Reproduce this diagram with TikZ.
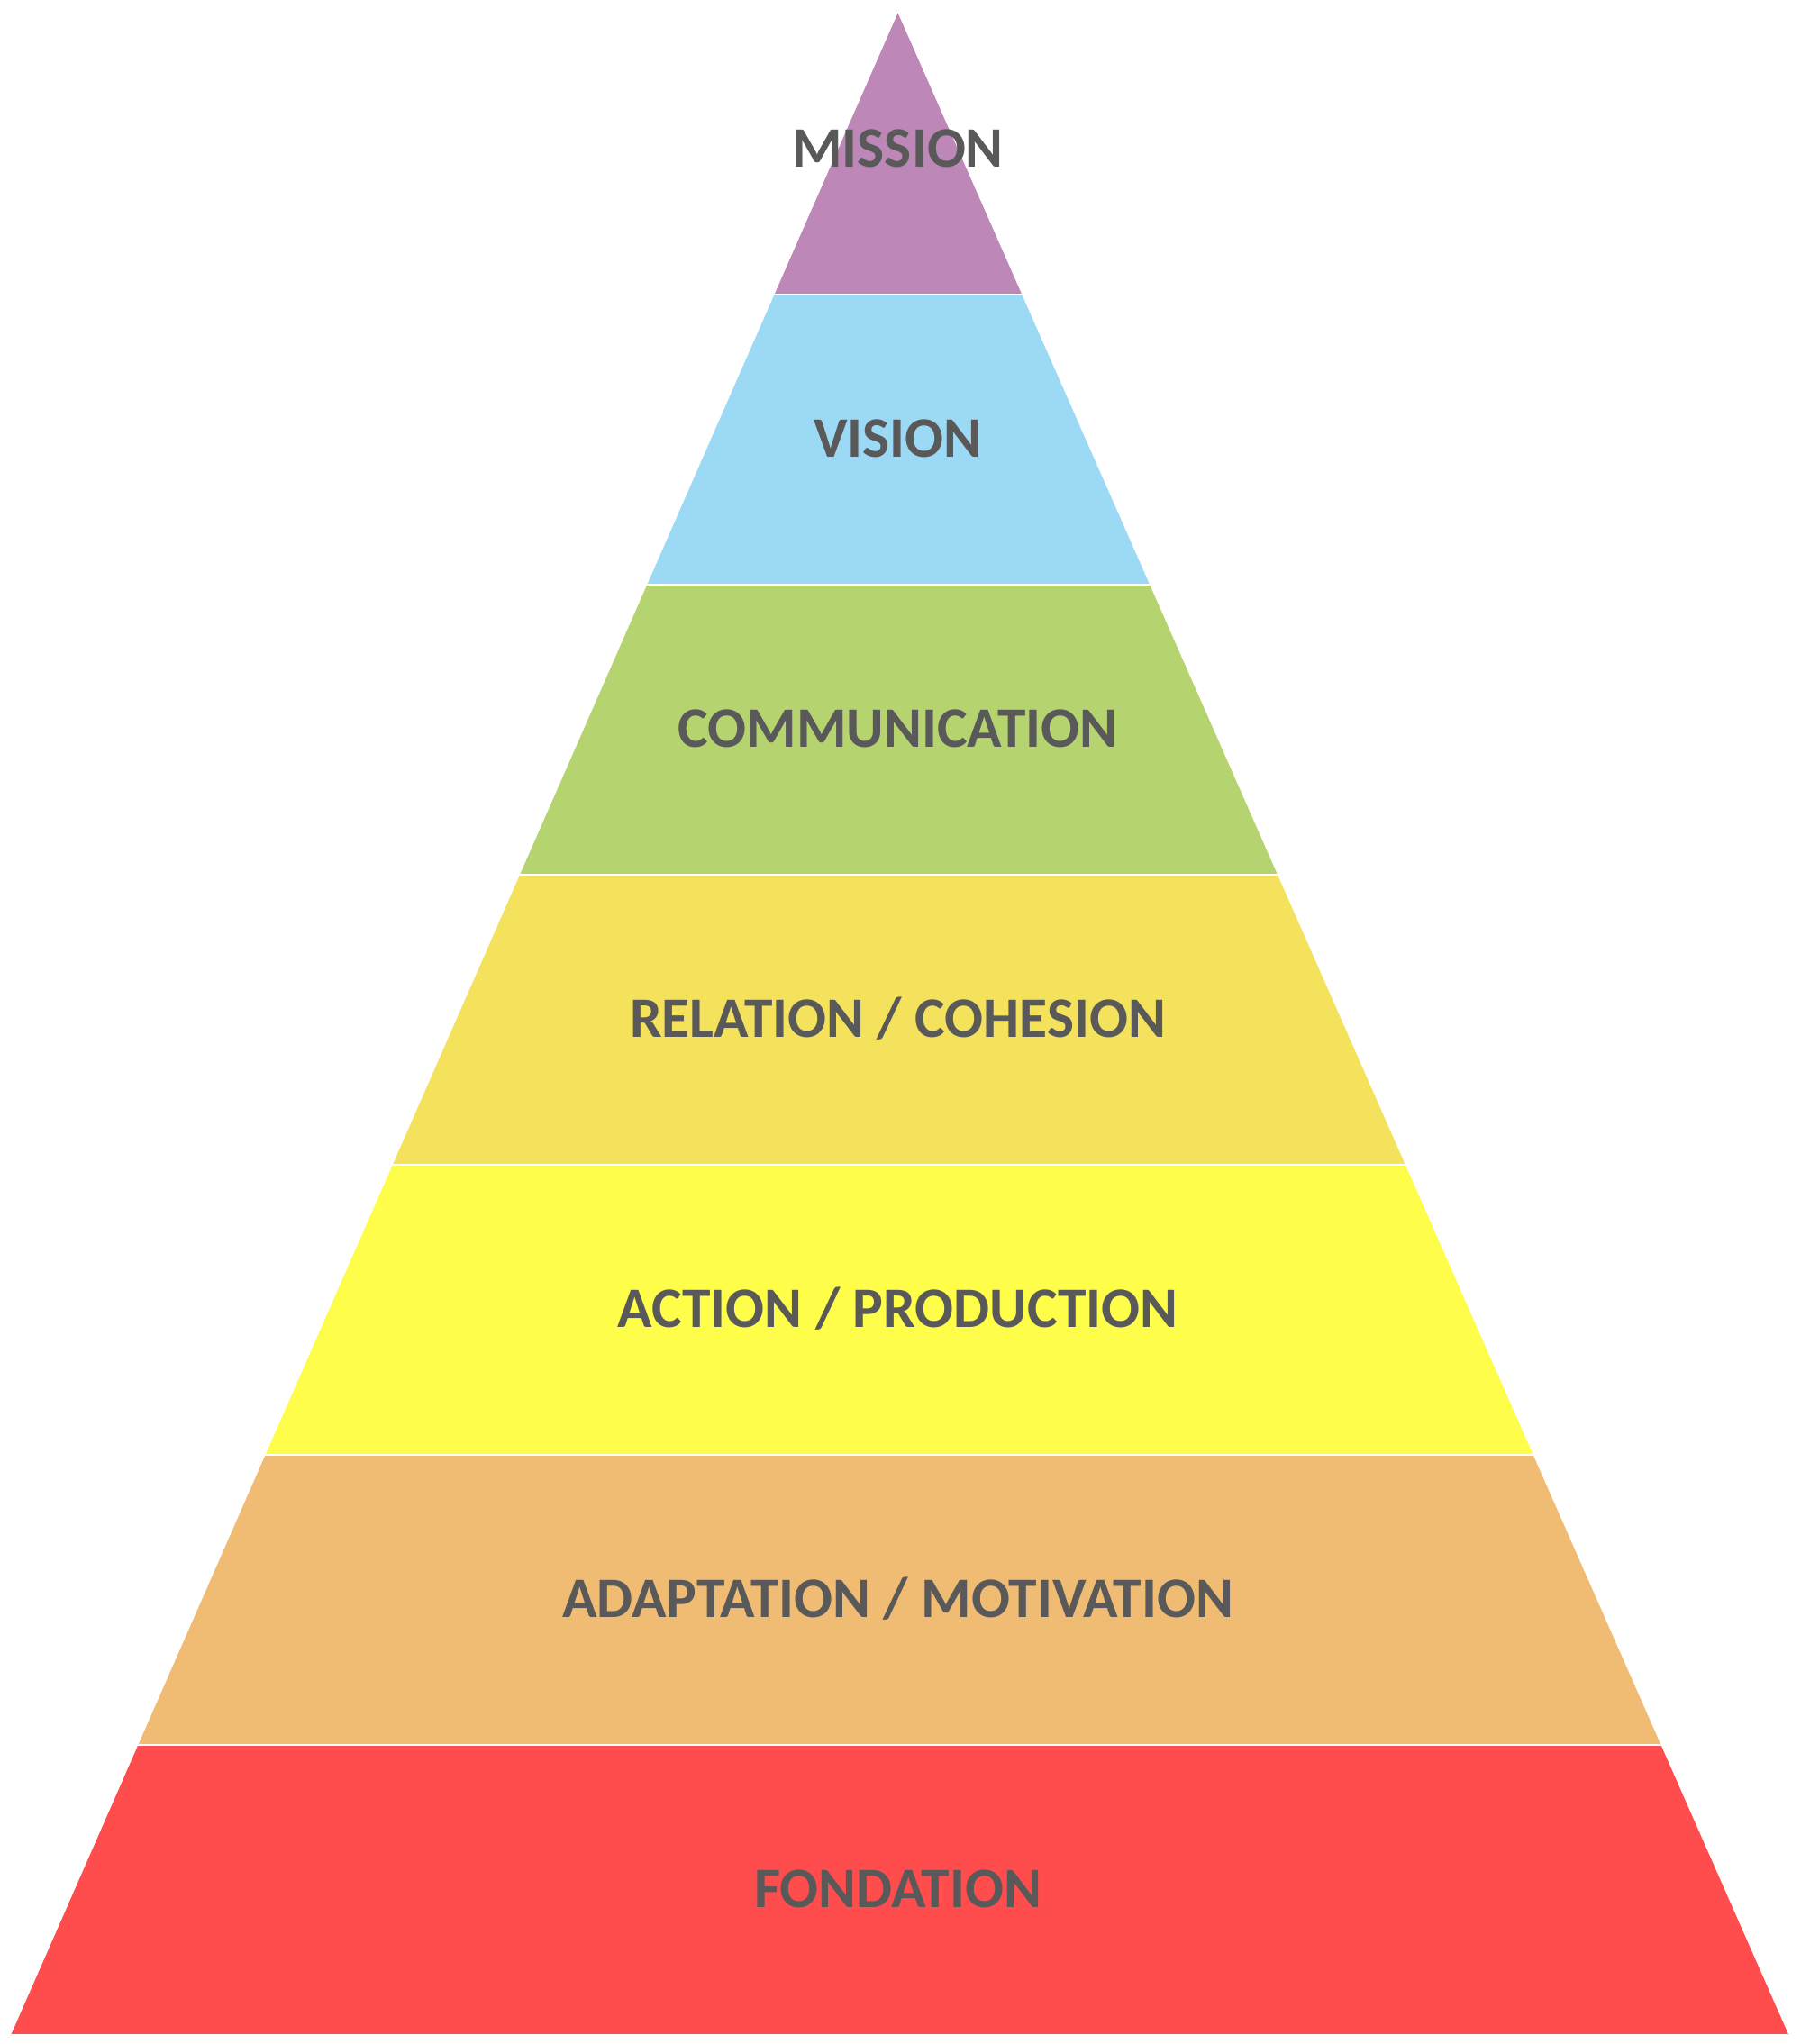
\documentclass[tikz,border=0pt]{standalone}
\usepackage{fontspec}
\setmainfont{Carlito}
\definecolor{cA}{HTML}{BD88B7}
\definecolor{cB}{HTML}{9BD9F5}
\definecolor{cC}{HTML}{B5D36E}
\definecolor{cD}{HTML}{F4E15C}
\definecolor{cE}{HTML}{FDFD4A}
\definecolor{cF}{HTML}{F0BC73}
\definecolor{cG}{HTML}{FF4D4D}
\definecolor{txt}{HTML}{595959}
\tikzset{lbl/.style={text=txt,font=\fontsize{44}{50}\selectfont\bfseries}}
\begin{document}
\begin{tikzpicture}[x=1pt,y=-1pt]
\useasboundingbox (0,0) rectangle (1384,1571);
\begin{scope}
\clip (690,10) -- (1375,1565) -- (8,1565) -- cycle;
\foreach \c [count=\i from 0] in {cA,cB,cC,cD,cE,cF,cG}{
  \pgfmathsetmacro{\ya}{\i==0 ? 0 : 227+223*(\i-1)}
  \pgfmathsetmacro{\yb}{227+223*\i}
  \fill[\c] (0,\ya) rectangle (1384,\yb);
  \draw[white,line width=3] (0,\yb) -- (1384,\yb);
}
\end{scope}
\node[lbl] (n1) at (690,114) {MISSION};
\node[lbl] (n2) at (690,337) {VISION};
\node[lbl] (n3) at (690,560) {COMMUNICATION};
\node[lbl] (n4) at (690,783) {RELATION / COHESION};
\node[lbl] (n5) at (690,1006) {ACTION / PRODUCTION};
\node[lbl] (n6) at (690,1229) {ADAPTATION / MOTIVATION};
\node[lbl] (n7) at (690,1452) {FONDATION};
\end{tikzpicture}
\end{document}
